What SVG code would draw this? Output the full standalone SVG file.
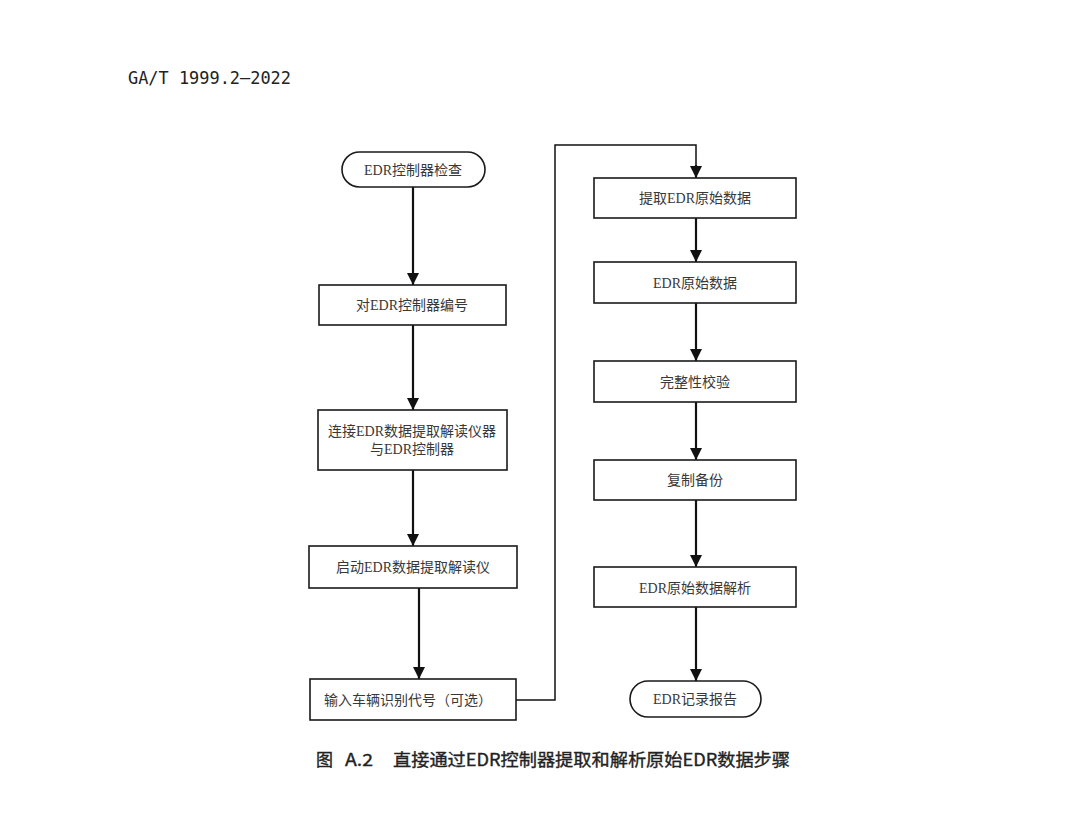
<svg xmlns="http://www.w3.org/2000/svg" width="1080" height="835" viewBox="0 0 1080 835">
<style>
.box{fill:#fff;stroke:#1a1a1a;stroke-width:1.6}
.t{font-family:"Liberation Serif","Noto Sans CJK SC",serif;font-size:14px;fill:#383838;text-anchor:middle;dominant-baseline:central}
.c{fill:none;stroke:#111;stroke-width:2.2}
.h{font-family:"DejaVu Sans Mono","Noto Sans CJK SC",monospace;font-size:17px;fill:#222}
.cap{font-family:"Noto Sans CJK SC",sans-serif;font-size:17px;fill:#222;stroke:#222;stroke-width:0.35}
</style>
<defs>
<marker id="ah" viewBox="0 0 10 10" refX="10" refY="5" markerWidth="5.5" markerHeight="5.5" orient="auto" markerUnits="strokeWidth">
<path d="M0,0 L10,5 L0,10 z" fill="#111"/>
</marker>
</defs>
<rect width="1080" height="835" fill="#fff"/>
<text class="h" x="128" y="84" textLength="163" lengthAdjust="spacingAndGlyphs">GA/T 1999.2—2022</text>
<g id="connectors">
<line class="c" x1="413" y1="187" x2="413" y2="285" marker-end="url(#ah)"/>
<line class="c" x1="413" y1="325" x2="413" y2="410" marker-end="url(#ah)"/>
<line class="c" x1="413" y1="470" x2="413" y2="546" marker-end="url(#ah)"/>
<line class="c" x1="419" y1="588" x2="419" y2="679" marker-end="url(#ah)"/>
<polyline class="c" style="stroke-width:1.5" points="516,700 555,700 555,145 696,145 696,170"/>
<line class="c" x1="696" y1="165" x2="696" y2="178" marker-end="url(#ah)"/>
<line class="c" x1="696" y1="218" x2="696" y2="262" marker-end="url(#ah)"/>
<line class="c" x1="696" y1="303" x2="696" y2="361" marker-end="url(#ah)"/>
<line class="c" x1="696" y1="402" x2="696" y2="460" marker-end="url(#ah)"/>
<line class="c" x1="696" y1="500" x2="696" y2="567" marker-end="url(#ah)"/>
<line class="c" x1="696" y1="607" x2="696" y2="681" marker-end="url(#ah)"/>
</g>
<g id="n1"><rect class="box" x="342" y="152" width="143" height="35" rx="17.5"/><text class="t" x="413" y="170">EDR控制器检查</text></g>
<g id="n2"><rect class="box" x="319" y="285" width="187" height="40"/><text class="t" x="412" y="305">对EDR控制器编号</text></g>
<g id="n3"><rect class="box" x="318" y="410" width="189" height="60"/><text class="t" x="412" y="431">连接EDR数据提取解读仪器</text><text class="t" x="412" y="449">与EDR控制器</text></g>
<g id="n4"><rect class="box" x="309" y="546" width="208" height="42"/><text class="t" x="413" y="567">启动EDR数据提取解读仪</text></g>
<g id="n5"><rect class="box" x="310" y="679" width="206" height="41"/><text class="t" x="408" y="700">输入车辆识别代号（可选）</text></g>
<g id="n6"><rect class="box" x="594" y="178" width="202" height="40"/><text class="t" x="695" y="198">提取EDR原始数据</text></g>
<g id="n7"><rect class="box" x="594" y="262" width="202" height="41"/><text class="t" x="695" y="283">EDR原始数据</text></g>
<g id="n8"><rect class="box" x="594" y="361" width="202" height="41"/><text class="t" x="695" y="382">完整性校验</text></g>
<g id="n9"><rect class="box" x="594" y="460" width="202" height="40"/><text class="t" x="695" y="480">复制备份</text></g>
<g id="n10"><rect class="box" x="594" y="567" width="202" height="40"/><text class="t" x="695" y="588">EDR原始数据解析</text></g>
<g id="n11"><rect class="box" x="630" y="681" width="131" height="36" rx="18"/><text class="t" x="695" y="699">EDR记录报告</text></g>
<text class="cap" x="316" y="766">图</text>
<text class="cap" x="345" y="766" textLength="28" lengthAdjust="spacingAndGlyphs">A.2</text>
<text class="cap" x="393" y="766" textLength="397" lengthAdjust="spacingAndGlyphs">直接通过EDR控制器提取和解析原始EDR数据步骤</text>
</svg>
